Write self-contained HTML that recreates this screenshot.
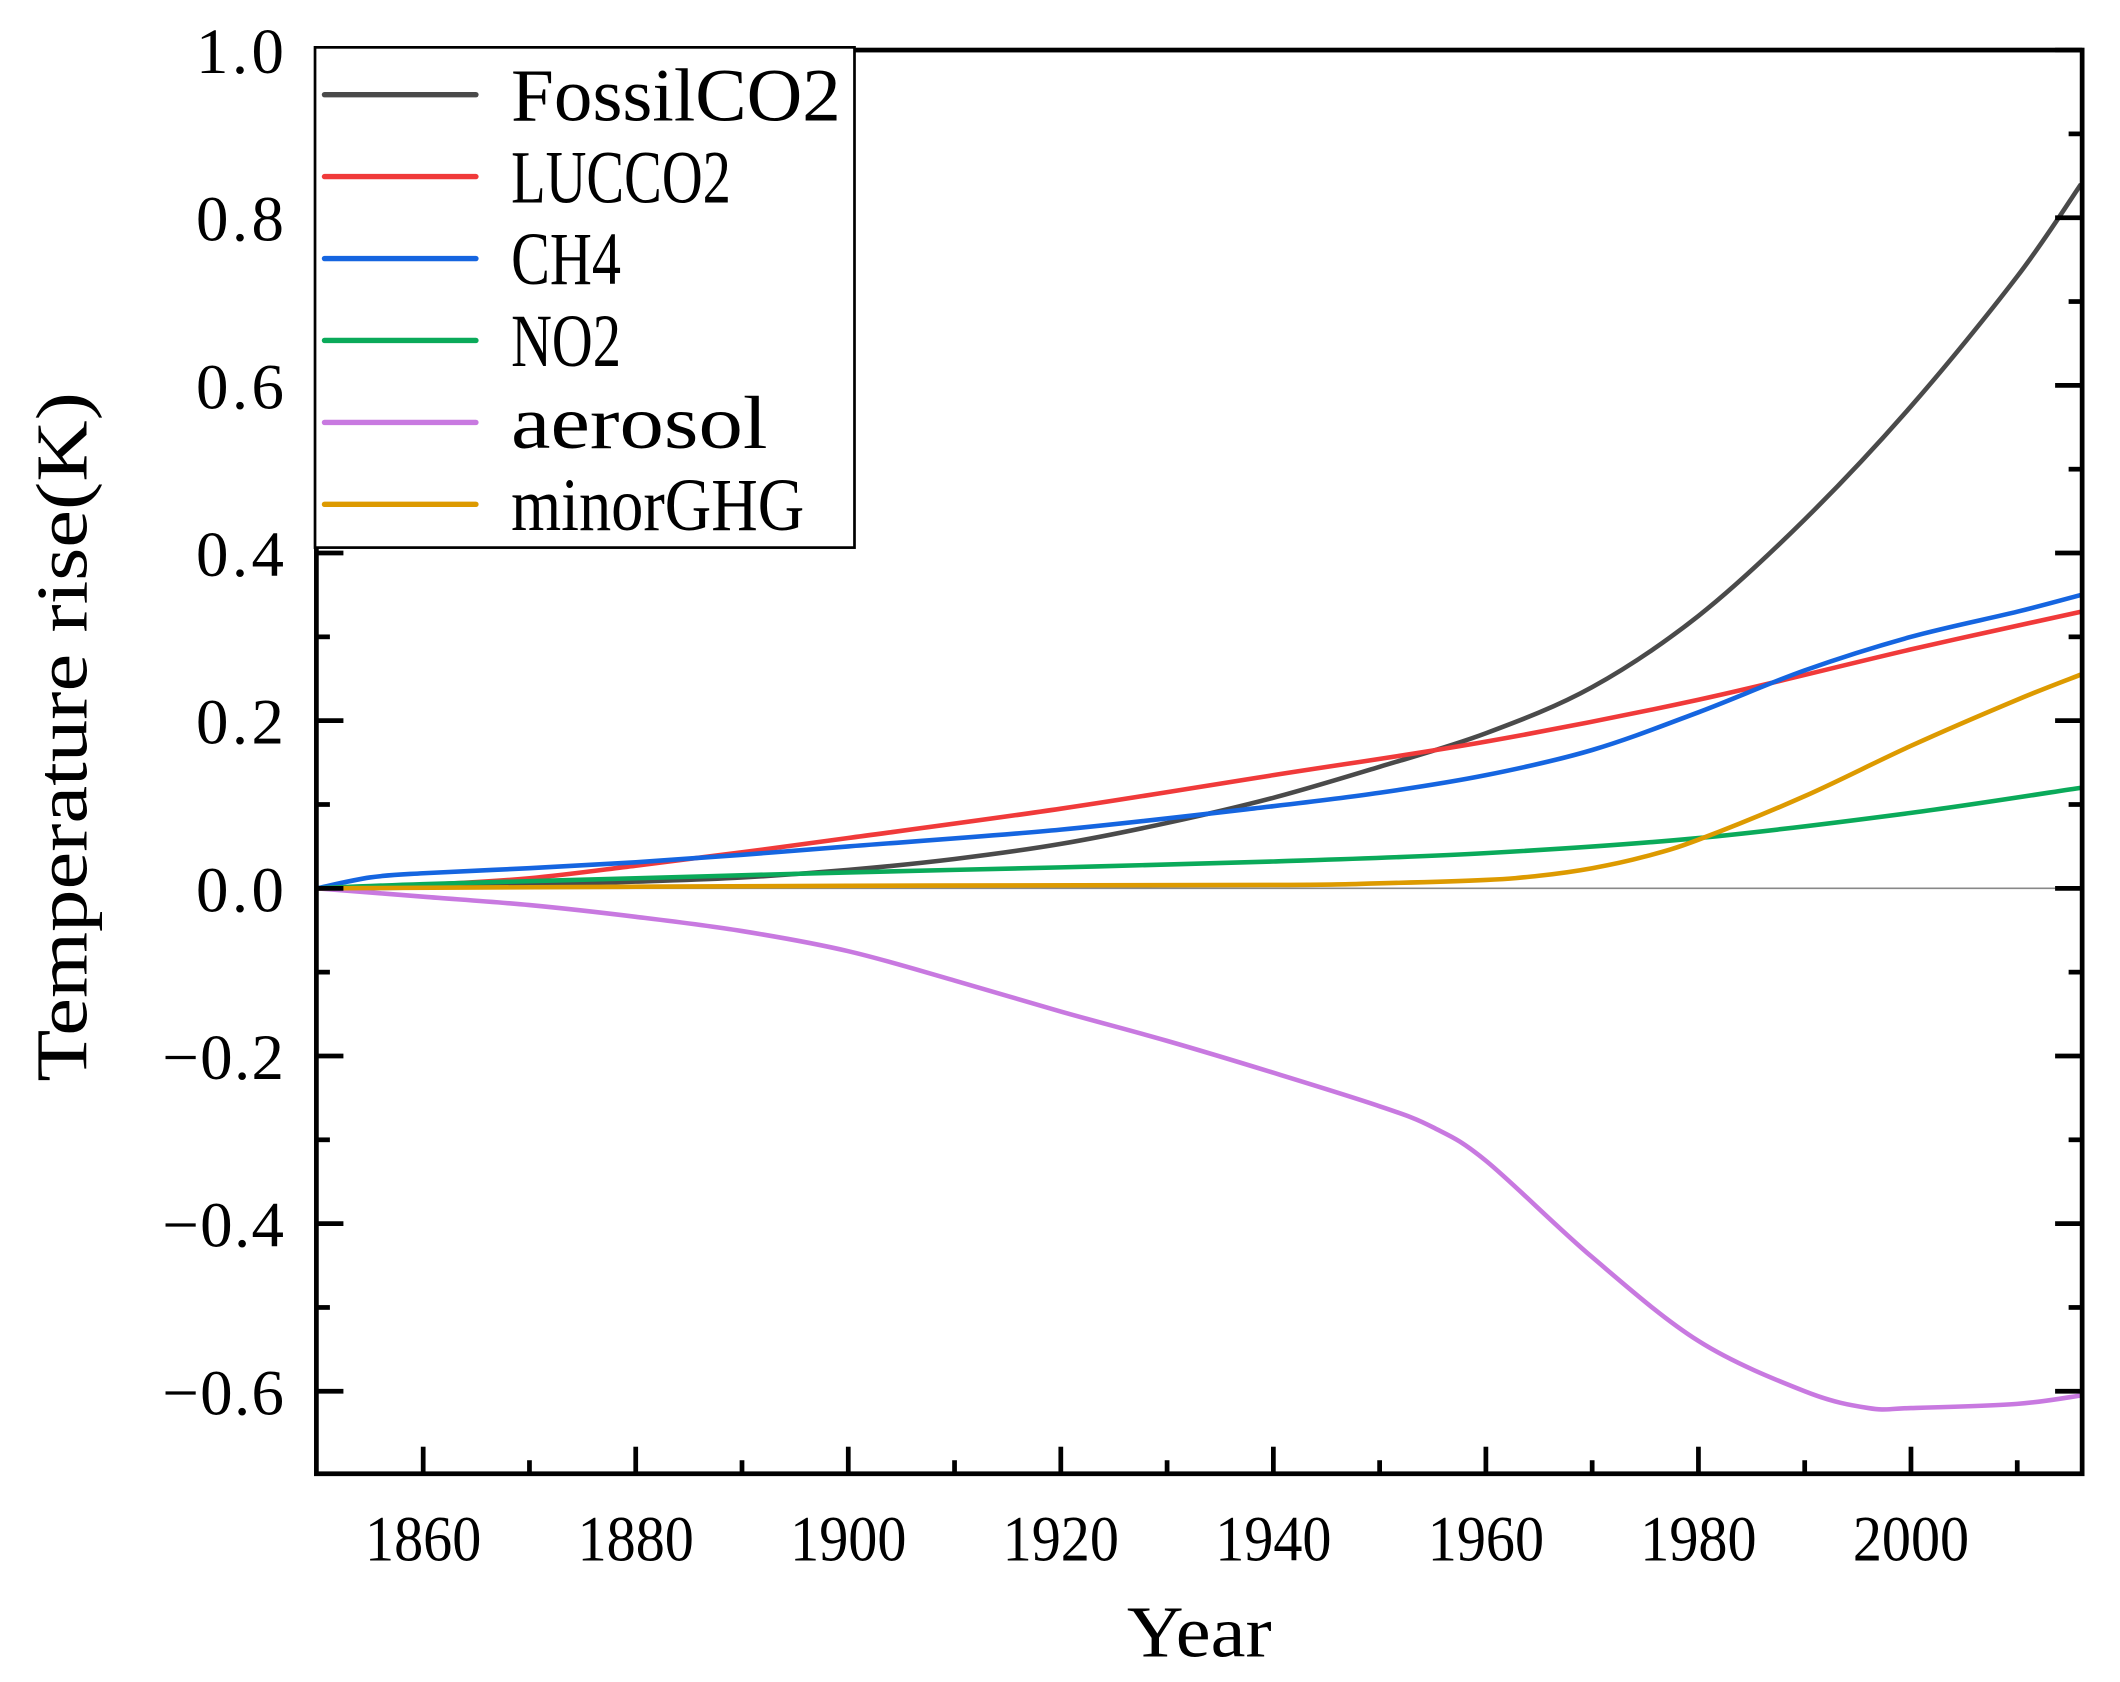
<!DOCTYPE html>
<html><head><meta charset="utf-8"><style>html,body{margin:0;padding:0;background:#fff}svg{display:block}</style></head>
<body>
<svg id="s" width="2120" height="1682" viewBox="0 0 1568 1244" xmlns="http://www.w3.org/2000/svg" font-family="'Liberation Serif', serif">
<rect width="1568" height="1244" fill="#fff"/>
<line x1="234" y1="657" x2="1540" y2="657" stroke="#888" stroke-width="1.2"/>
<g id="curves" fill="none" stroke-width="3.4" stroke-linejoin="round"></g>
<g id="ticks" stroke="#000" stroke-width="3.5"></g>
<rect x="234" y="37" width="1306" height="1053" fill="none" stroke="#000" stroke-width="3.5"/>
<g font-size="48" text-anchor="end" id="ylab"></g>
<g font-size="48" text-anchor="middle" id="xlab"></g>
<text x="887" y="1225" font-size="54" text-anchor="middle" textLength="107" lengthAdjust="spacingAndGlyphs">Year</text>
<text transform="translate(64,545) rotate(-90)" font-size="54" text-anchor="middle" textLength="510" lengthAdjust="spacingAndGlyphs">Temperature rise(K)</text>
<rect x="233" y="35" width="399" height="370" fill="#fff" stroke="#000" stroke-width="2"/>
<g id="leg" font-size="56"></g>
</svg>
<script>
var X=function(y){return 234.4+(y-1850)*7.86},Y=function(v){return 657-v*620};
var S=[
["#4a4a4a",[[1850,0],[1860,0.001],[1870,0.004],[1880,0.008],[1890,0.013],[1900,0.022],[1910,0.035],[1920,0.053],[1930,0.078],[1940,0.108],[1950,0.145],[1960,0.185],[1970,0.24],[1980,0.325],[1990,0.44],[2000,0.575],[2010,0.73],[2016,0.84]],"FossilCO2"],
["#f03a3a",[[1850,0],[1860,0.004],[1870,0.012],[1880,0.027],[1890,0.043],[1900,0.06],[1920,0.095],[1940,0.135],[1960,0.175],[1980,0.225],[2000,0.285],[2016,0.33]],"LUCCO2"],
["#1565e0",[[1850,0],[1855,0.013],[1860,0.018],[1870,0.024],[1880,0.031],[1890,0.04],[1900,0.05],[1920,0.07],[1940,0.098],[1950,0.114],[1960,0.135],[1970,0.165],[1980,0.21],[1990,0.26],[2000,0.3],[2010,0.33],[2016,0.35]],"CH4"],
["#0aaa5a",[[1850,0],[1860,0.005],[1880,0.012],[1900,0.019],[1920,0.025],[1940,0.032],[1960,0.042],[1980,0.06],[2000,0.09],[2016,0.12]],"NO2"],
["#c879e0",[[1850,0],[1860,-0.01],[1870,-0.02],[1880,-0.034],[1890,-0.051],[1900,-0.075],[1910,-0.11],[1920,-0.147],[1930,-0.182],[1940,-0.22],[1950,-0.26],[1955,-0.285],[1960,-0.325],[1970,-0.44],[1980,-0.54],[1990,-0.6],[1996,-0.62],[2000,-0.62],[2010,-0.615],[2016,-0.605]],"aerosol"],
["#dd9a00",[[1850,0],[1900,0.003],[1940,0.004],[1950,0.006],[1960,0.01],[1965,0.015],[1970,0.024],[1975,0.038],[1980,0.058],[1990,0.11],[2000,0.17],[2010,0.225],[2016,0.255]],"minorGHG"]];
var ns="http://www.w3.org/2000/svg";
function el(t,a,p,txt){var e=document.createElementNS(ns,t);for(var k in a)e.setAttribute(k,a[k]);if(txt)e.textContent=txt;document.getElementById(p).appendChild(e);}
S.forEach(function(s,i){var p=s[1].map(function(q){return [X(q[0]),Y(q[1])]});
var d="M"+p[0][0]+","+p[0][1];
for(var j=0;j<p.length-1;j++){var a=p[j-1]||p[j],b=p[j],c=p[j+1],e=p[j+2]||c;
d+="C"+(b[0]+(c[0]-a[0])/6)+","+(b[1]+(c[1]-a[1])/6)+" "+(c[0]-(e[0]-b[0])/6)+","+(c[1]-(e[1]-b[1])/6)+" "+c[0]+","+c[1];}
el("path",{d:d,stroke:s[0]},"curves");
var ly=70+i*60.6;
el("line",{x1:240,y1:ly,x2:352,y2:ly,stroke:s[0],"stroke-width":4,"stroke-linecap":"round"},"leg");
el("text",{x:378,y:ly+19,textLength:s[2].length*27.1,lengthAdjust:"spacingAndGlyphs"},"leg",s[2]);});
for(var v=-0.6;v<=1.001;v+=0.1){var y=Y(v),maj=Math.abs(Math.round(v*10))%2==0,L=maj?20:10;
el("line",{x1:234,y1:y,x2:234+L,y2:y},"ticks");el("line",{x1:1540,y1:y,x2:1540-L,y2:y},"ticks");
if(maj){var neg=v<-0.001;el("text",{x:210,y:y+17,textLength:neg?90:65,lengthAdjust:"spacing"},"ylab",(neg?"\u2212":"")+Math.abs(v).toFixed(1));}}
for(var yr=1860;yr<=2010;yr+=10){var x=X(yr),maj=yr%20==0,L=maj?20:10;
el("line",{x1:x,y1:1090,x2:x,y2:1090-L},"ticks");if(maj)el("text",{x:x,y:1154,textLength:86,lengthAdjust:"spacingAndGlyphs"},"xlab",yr);}
</script>
</body></html>
